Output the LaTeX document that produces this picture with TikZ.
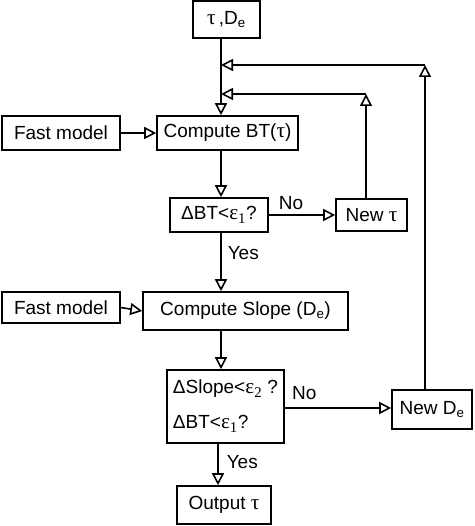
\documentclass[tikz,border=0pt]{standalone}
\usepackage{fontspec}
\setmainfont{Liberation Sans}
\newfontfamily\grf[Scale=1.12]{Liberation Serif}
\usetikzlibrary{arrows.meta,calc}
\newcommand{\gtau}{{\grf τ}}
\newcommand{\geps}{{\grf ε}}
\newcommand{\sbs}[1]{\textsubscript{#1}}
\begin{document}
\begin{tikzpicture}[x=1pt,y=-1pt,
  box/.style={draw,line width=1.6pt,rectangle,inner sep=0pt,font=\fontsize{19}{23}\selectfont},
  arr/.style={line width=1.6pt,-{Triangle[open,length=12pt,width=12pt,line width=1.6pt]}},
  lbl/.style={font=\fontsize{19}{23}\selectfont,inner sep=0pt}]
\useasboundingbox (0,0) rectangle (474,526);
\node[box,minimum width=67pt,minimum height=37pt] (top) at (226.5,19.5) {\gtau\,,D\sbs{e}};
\node[box,minimum width=118pt,minimum height=34pt] (fm1) at (61,133) {Fast model};
\node[box,minimum width=141pt,minimum height=34pt] (cbt) at (227.5,133) {Compute BT(\gtau)};
\node[box,minimum width=98pt,minimum height=34pt] (d1) at (219,215) {ΔBT<\geps\sbs{\grf 1}?};
\node[box,minimum width=71pt,minimum height=32pt] (ntau) at (371.5,215) {New \gtau};
\node[box,minimum width=118pt,minimum height=31pt] (fm2) at (61,307.5) {Fast model};
\node[box,minimum width=205pt,minimum height=38pt] (cs) at (245.5,311) {Compute Slope (D\sbs{e})};
\node[box,minimum width=117pt,minimum height=73pt,align=left] (d2) at (225.5,406.5) {ΔSlope<\geps\sbs{\grf 2} ?\\[12pt]ΔBT<\geps\sbs{\grf 1}?};
\node[box,minimum width=80pt,minimum height=39pt] (nde) at (432,409.5) {New D\sbs{e}};
\node[box,minimum width=94pt,minimum height=38pt] (out) at (224,505) {Output \gtau};
\coordinate (m) at (221,0);
\coordinate (c1) at (366,94);
\coordinate (c2) at (425,65);
\coordinate (j1) at (221,94);
\coordinate (j2) at (221,65);
% main flow
\draw[arr] (top.south -| m) -- (cbt.north -| m);
\draw[arr] (fm1.east) -- (cbt.west);
\draw[arr] (cbt.south -| m) -- (d1.north -| m);
\draw[arr] (d1.east) -- (ntau.west) node[lbl,midway,above=5pt,xshift=-11pt] {No};
\draw[arr] (d1.south -| m) -- (cs.north -| m) node[lbl,pos=0.35,right=6pt] {Yes};
\draw[arr] (fm2.east) -- (cs.west);
\draw[arr] (cs.south -| m) -- (d2.north -| m);
\draw[arr] (d2.east |- 0,408) -- (nde.west |- 0,408);
\node[lbl,anchor=west] (no2) at (292,393) {No};
\draw[arr] (d2.south -| 218,0) -- (out.north -| 218,0) node[lbl,pos=0.45,right=8pt] {Yes};
% feedback
\draw[arr] (ntau.north -| c1) -- (c1);
\draw[arr] (c1) -- (j1);
\draw[arr] (nde.north -| c2) -- (c2);
\draw[arr] (c2) -- (j2);
\end{tikzpicture}
\end{document}
